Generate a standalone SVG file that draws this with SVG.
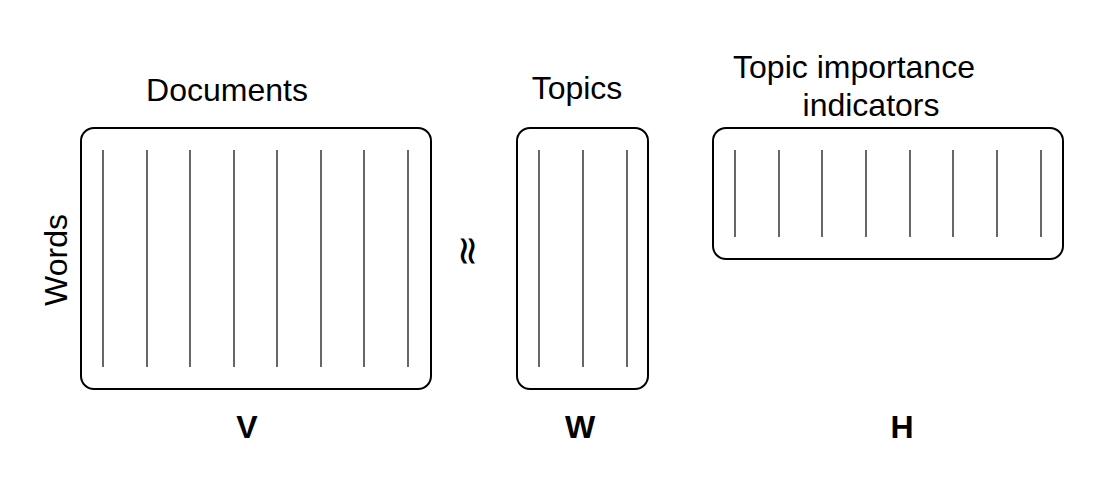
<svg xmlns="http://www.w3.org/2000/svg" width="1106" height="478" viewBox="0 0 1106 478">
<style>
.box{fill:none;stroke:#000;stroke-width:2}
.ln{stroke:#000;stroke-width:1.2}
text{font-family:"Liberation Sans",Arial,sans-serif;font-size:32px;fill:#000}
.b{font-weight:bold;text-anchor:middle}
</style>
<rect width="1106" height="478" fill="#fff"/>
<g id="V">
<rect class="box" x="81" y="128" width="350" height="261" rx="13"/>
<g class="ln"><line x1="103" y1="150" x2="103" y2="367"/><line x1="147" y1="150" x2="147" y2="367"/><line x1="190" y1="150" x2="190" y2="367"/><line x1="234" y1="150" x2="234" y2="367"/><line x1="277" y1="150" x2="277" y2="367"/><line x1="321" y1="150" x2="321" y2="367"/><line x1="364" y1="150" x2="364" y2="367"/><line x1="408" y1="150" x2="408" y2="367"/></g>
<text x="227" y="101" text-anchor="middle">Documents</text>
<text transform="translate(67,260) rotate(-90)" text-anchor="middle">Words</text>
<text class="b" x="247" y="438">V</text>
</g>
<g id="approx"><text transform="translate(455,251) rotate(90)" text-anchor="middle" style="font-family:'DejaVu Sans',sans-serif;font-size:40px">≈</text></g>
<g id="W">
<rect class="box" x="517" y="128" width="131" height="261" rx="13"/>
<g class="ln"><line x1="539" y1="150" x2="539" y2="367"/><line x1="583" y1="150" x2="583" y2="367"/><line x1="627" y1="150" x2="627" y2="367"/></g>
<text x="577" y="99" text-anchor="middle">Topics</text>
<text class="b" x="580" y="438">W</text>
</g>
<g id="H">
<rect class="box" x="713" y="128" width="350" height="131" rx="13"/>
<g class="ln"><line x1="735" y1="150" x2="735" y2="237"/><line x1="779" y1="150" x2="779" y2="237"/><line x1="822" y1="150" x2="822" y2="237"/><line x1="866" y1="150" x2="866" y2="237"/><line x1="910" y1="150" x2="910" y2="237"/><line x1="953" y1="150" x2="953" y2="237"/><line x1="997" y1="150" x2="997" y2="237"/><line x1="1041" y1="150" x2="1041" y2="237"/></g>
<text x="854" y="78" text-anchor="middle">Topic importance</text>
<text x="871" y="116" text-anchor="middle">indicators</text>
<text class="b" x="902" y="438">H</text>
</g>
<g id="connectors"/>
</svg>
